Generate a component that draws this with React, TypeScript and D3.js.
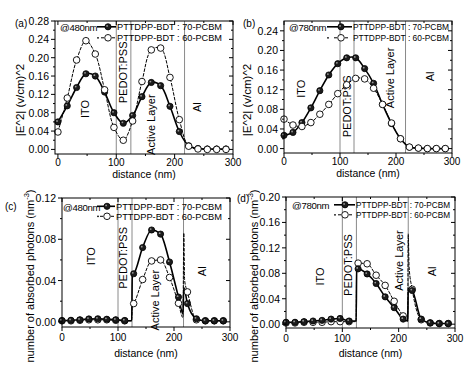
import React from "react";
import * as d3 from "d3";

// ---------------- data ----------------
const DISTANCE = [0, 16, 32, 48, 64, 80, 96, 112, 128, 144, 160, 176, 192, 208, 224, 240, 256, 272, 288];
const X_TICKS = [0, 100, 200, 300];
const X_MINOR = [50, 150, 250];
const LAYER_BOUNDARIES = [100, 125, 217];
const LAYER_NAMES = ["ITO", "PEDOT:PSS", "Active Layer", "Al"];
const SERIES_NAMES = ["PTTDPP-BDT : 70-PCBM", "PTTDPP-BDT : 60-PCBM"];
const PANEL_LABELS = ["(a)", "(b)", "(c)", "(d)"];
const WAVELENGTHS = ["@480nm", "@780nm", "@480nm", "@780nm"];
const Y_TITLES = ["|E^2| (v/cm)^2", "|E^2| (v/cm)^2", "number of absorbed photons (nm", "number of absorbed photons (nm"];
const X_TITLE = "distance (nm)";

// (a) |E|^2 @480nm
const A_70 = [0.06, 0.095, 0.135, 0.165, 0.16, 0.125, 0.08, 0.057, 0.074, 0.115, 0.146, 0.139, 0.094, 0.039, 0.008, 0.002, 0.001, 0.001, 0.001];
const A_60 = [0.038, 0.112, 0.195, 0.237, 0.208, 0.13, 0.048, 0.02, 0.062, 0.148, 0.217, 0.221, 0.157, 0.065, 0.007, 0.001, 0, 0, 0];
const A_Y_TICKS = [0, 0.04, 0.08, 0.12, 0.16, 0.2, 0.24, 0.28];

// (b) |E|^2 @780nm
const B_70 = [0.027, 0.033, 0.053, 0.083, 0.118, 0.15, 0.173, 0.185, 0.185, 0.163, 0.133, 0.09, 0.051, 0.02, 0.003, 0.001, 0, 0, 0];
const B_60 = [0.06, 0.048, 0.045, 0.053, 0.07, 0.09, 0.112, 0.13, 0.143, 0.142, 0.123, 0.09, 0.052, 0.02, 0.003, 0.001, 0, 0, 0];
const B_Y_TICKS = [0, 0.04, 0.08, 0.12, 0.16, 0.2, 0.24];

// (c) absorbed photons @480nm
const C_70 = [0.0012, 0.0015, 0.002, 0.0028, 0.003, 0.0025, 0.002, 0.0012, 0.0466, 0.072, 0.089, 0.085, 0.058, 0.024, 0.0177, 0.003, 0.001, 0.001, 0.001];
const C_60 = [0.001, 0.001, 0.0015, 0.002, 0.002, 0.002, 0.0015, 0.001, 0.0177, 0.041, 0.059, 0.06, 0.043, 0.018, 0.029, 0.002, 0.001, 0.001, 0.001];
const C_70_LINE_X = [0, 16, 32, 48, 64, 80, 96, 112, 124.5, 125.5, 128, 144, 160, 176, 192, 208, 216, 217.5, 224, 240, 256, 272, 288];
const C_70_LINE_Y = [0.0012, 0.0015, 0.002, 0.0028, 0.003, 0.0025, 0.002, 0.0012, 0.001, 0.046, 0.0466, 0.072, 0.089, 0.085, 0.058, 0.024, 0.008, 0.033, 0.0177, 0.003, 0.001, 0.001, 0.001];
const C_60_LINE_X = [0, 16, 32, 48, 64, 80, 96, 112, 124.5, 125.5, 128, 144, 160, 176, 192, 208, 216, 217.5, 219, 224, 240, 256, 272, 288];
const C_60_LINE_Y = [0.001, 0.001, 0.0015, 0.002, 0.002, 0.002, 0.0015, 0.001, 0.001, 0.016, 0.0177, 0.041, 0.059, 0.06, 0.043, 0.018, 0.004, 0.086, 0.04, 0.029, 0.002, 0.001, 0.001, 0.001];
const C_Y_TICKS = [0, 0.04, 0.08, 0.12];

// (d) absorbed photons @780nm
const D_70 = [0.003, 0.003, 0.004, 0.005, 0.006, 0.008, 0.009, 0.005, 0.087, 0.079, 0.064, 0.043, 0.026, 0.008, 0.053, 0.008, 0.002, 0.001, 0.001];
const D_60 = [0.002, 0.002, 0.003, 0.003, 0.003, 0.004, 0.004, 0.004, 0.096, 0.095, 0.077, 0.061, 0.036, 0.013, 0.055, 0.007, 0.002, 0.001, 0.001];
const D_70_LINE_X = [0, 16, 32, 48, 64, 80, 96, 112, 124.5, 125.5, 128, 144, 160, 176, 192, 208, 216, 217, 224, 240, 256, 272, 288];
const D_70_LINE_Y = [0.003, 0.003, 0.004, 0.005, 0.006, 0.008, 0.009, 0.005, 0.005, 0.086, 0.087, 0.079, 0.064, 0.043, 0.026, 0.008, 0.005, 0.056, 0.053, 0.008, 0.002, 0.001, 0.001];
const D_60_LINE_X = [0, 16, 32, 48, 64, 80, 96, 112, 124.5, 125.5, 128, 144, 160, 176, 192, 208, 216, 217, 218.5, 224, 240, 256, 272, 288];
const D_60_LINE_Y = [0.002, 0.002, 0.003, 0.003, 0.003, 0.004, 0.004, 0.004, 0.004, 0.095, 0.096, 0.095, 0.077, 0.061, 0.036, 0.013, 0.005, 0.142, 0.09, 0.055, 0.007, 0.002, 0.001, 0.001];
const D_Y_TICKS = [0, 0.04, 0.08, 0.12, 0.16, 0.2];

// ---------------- helpers ----------------
const FONT = "Arial, 'Liberation Sans', Helvetica, sans-serif";
type Pt = [number, number];
const zip = (xs: number[], ys: number[]): Pt[] => xs.map((v, i) => [v, ys[i]] as Pt);

interface SeriesCfg {
  markers: Pt[];
  line: Pt[];
  filled: boolean;
}

interface PanelCfg {
  idx: number;
  frame: { l: number; r: number; t: number; b: number };
  xDomain: [number, number];
  yDomain: [number, number];
  yTicks: number[];
  smooth: boolean;
  openOnTop: boolean;
  series: SeriesCfg[];
  layerPos: Pt[];
  yTitlePos: Pt;
  superscript: boolean;
  labelPos: Pt;
  xTickBase: number;
  xTitleBase: number;
  legend: { wx: number; base: number; s0: number; s1: number; m: number; tx: number; tw: number; gap: number };
}

const Panel: React.FC<{ cfg: PanelCfg }> = ({ cfg }) => {
  const { l, r, t, b } = cfg.frame;
  const x = d3.scaleLinear().domain(cfg.xDomain).range([l, r]);
  const y = d3.scaleLinear().domain(cfg.yDomain).range([b, t]);
  const gen = d3
    .line<Pt>()
    .x((d) => x(d[0]))
    .y((d) => y(d[1]))
    .curve(cfg.smooth ? d3.curveCatmullRom.alpha(0.5) : d3.curveMonotoneX);
  const clipId = `clip${cfg.idx}`;
  const yMinor: number[] = [];
  for (let i = 0; i < cfg.yTicks.length; i++) {
    const v = cfg.yTicks[i] + 0.02;
    if (v < cfg.yDomain[1] - 0.001) yMinor.push(v);
  }
  const fmt = d3.format(".2f");
  const seriesOrder = cfg.openOnTop ? [0, 1] : [1, 0];
  const lg = cfg.legend;

  const marker = (s: SeriesCfg, p: Pt, k: number) =>
    s.filled ? (
      <g key={k}>
        <circle cx={x(p[0])} cy={y(p[1])} r={3.1} fill="#1c1c1c" stroke="#000" strokeWidth={0.8} />
        <circle cx={x(p[0]) - 0.9} cy={y(p[1]) - 0.9} r={0.9} fill="#9a9a9a" />
      </g>
    ) : (
      <circle key={k} cx={x(p[0])} cy={y(p[1])} r={3.3} fill="#fff" stroke="#000" strokeWidth={0.9} />
    );

  return (
    <g fontFamily={FONT} fill="#000">
      <defs>
        <clipPath id={clipId}>
          <rect x={l} y={t} width={r - l} height={b - t} />
        </clipPath>
      </defs>
      {LAYER_BOUNDARIES.map((v) => (
        <line key={v} x1={x(v)} x2={x(v)} y1={t} y2={b} stroke="#8a8a8a" strokeWidth={1} />
      ))}
      {LAYER_NAMES.map((name, i) => (
        <text
          key={name}
          transform={`translate(${x(cfg.layerPos[i][0])},${y(cfg.layerPos[i][1])}) rotate(-90)`}
          textAnchor="middle"
          dominantBaseline="central"
          fontSize={11}
        >
          {name}
        </text>
      ))}
      <g clipPath={`url(#${clipId})`}>
        {seriesOrder.map((si) => {
          const s = cfg.series[si];
          return (
            <path
              key={si}
              d={gen(s.line) || ""}
              fill="none"
              stroke="#000"
              strokeWidth={s.filled ? 1.6 : 1}
              strokeDasharray={s.filled ? undefined : "3.5,1.2"}
            />
          );
        })}
      </g>
      {seriesOrder.map((si) => (
        <g key={si}>{cfg.series[si].markers.map((p, k) => marker(cfg.series[si], p, k))}</g>
      ))}
      <rect x={l} y={t} width={r - l} height={b - t} fill="none" stroke="#000" strokeWidth={1} />
      {cfg.yTicks.map((v) => (
        <g key={v}>
          <line x1={l - 4} x2={l} y1={y(v)} y2={y(v)} stroke="#000" />
          <line x1={r} x2={r - 4} y1={y(v)} y2={y(v)} stroke="#000" />
          <text x={l - 6} y={y(v)} textAnchor="end" dominantBaseline="central" fontSize={10.5}>
            {fmt(v)}
          </text>
        </g>
      ))}
      {yMinor.map((v) => (
        <g key={`m${v}`}>
          <line x1={l - 2} x2={l} y1={y(v)} y2={y(v)} stroke="#000" />
          <line x1={r} x2={r - 2} y1={y(v)} y2={y(v)} stroke="#000" />
        </g>
      ))}
      {X_TICKS.map((v) => (
        <g key={v}>
          <line x1={x(v)} x2={x(v)} y1={b} y2={b + 4} stroke="#000" />
          <line x1={x(v)} x2={x(v)} y1={t} y2={t + 4} stroke="#000" />
          <text x={x(v)} y={cfg.xTickBase} textAnchor="middle" fontSize={10}>
            {v}
          </text>
        </g>
      ))}
      {X_MINOR.map((v) => (
        <g key={`xm${v}`}>
          <line x1={x(v)} x2={x(v)} y1={b} y2={b + 2} stroke="#000" />
          <line x1={x(v)} x2={x(v)} y1={t} y2={t + 2} stroke="#000" />
        </g>
      ))}
      <text x={(l + r) / 2} y={cfg.xTitleBase} textAnchor="middle" fontSize={10.5}>
        {X_TITLE}
      </text>
      <text
        transform={`translate(${cfg.yTitlePos[0]},${cfg.yTitlePos[1]}) rotate(-90)`}
        textAnchor="middle"
        dominantBaseline="central"
        fontSize={cfg.superscript ? 11 : 11.5}
      >
        {Y_TITLES[cfg.idx]}
        {cfg.superscript ? (
          <>
            <tspan dy={-4} fontSize={7.5}>
              -3
            </tspan>
            <tspan dy={4}>)</tspan>
          </>
        ) : null}
      </text>
      <text x={cfg.labelPos[0]} y={cfg.labelPos[1]} fontSize={10}>
        {PANEL_LABELS[cfg.idx]}
      </text>
      {/* legend */}
      <text x={lg.wx} y={lg.base + 1} fontSize={9.6} letterSpacing={-0.3}>
        {WAVELENGTHS[cfg.idx]}
      </text>
      <line x1={lg.s0} x2={lg.s1} y1={lg.base - 3.2} y2={lg.base - 3.2} stroke="#000" strokeWidth={1.6} />
      {marker(cfg.series[0], [x.invert(lg.m), y.invert(lg.base - 3.2)], 999)}
      <text x={lg.tx} y={lg.base} fontSize={9.2} textLength={lg.tw} lengthAdjust="spacingAndGlyphs">
        {SERIES_NAMES[0]}
      </text>
      <circle cx={lg.s0 + 1} cy={lg.base + lg.gap - 3.2} r={0.9} fill="#000" />
      <line x1={lg.m - 7} x2={lg.m - 4} y1={lg.base + lg.gap - 3.2} y2={lg.base + lg.gap - 3.2} stroke="#000" strokeWidth={1} />
      <line x1={lg.m + 4} x2={lg.m + 7} y1={lg.base + lg.gap - 3.2} y2={lg.base + lg.gap - 3.2} stroke="#000" strokeWidth={1} />
      {marker(cfg.series[1], [x.invert(lg.m), y.invert(lg.base + lg.gap - 3.2)], 998)}
      <text x={lg.tx} y={lg.base + lg.gap} fontSize={9.2} textLength={lg.tw} lengthAdjust="spacingAndGlyphs">
        {SERIES_NAMES[1]}
      </text>
    </g>
  );
};

const PANELS: PanelCfg[] = [
  {
    idx: 0,
    frame: { l: 55, r: 233, t: 21, b: 154 },
    xDomain: [-5, 300],
    yDomain: [-0.01, 0.28],
    yTicks: A_Y_TICKS,
    smooth: true,
    openOnTop: true,
    series: [
      { markers: zip(DISTANCE, A_70), line: zip(DISTANCE, A_70), filled: true },
      { markers: zip(DISTANCE, A_60), line: zip(DISTANCE, A_60), filled: false },
    ],
    layerPos: [[47, 0.088], [111, 0.168], [160, 0.054], [239, 0.092]],
    yTitlePos: [20, 100],
    superscript: false,
    labelPos: [15, 27],
    xTickBase: 165.5,
    xTitleBase: 178,
    legend: { wx: 60, base: 30, s0: 97, s1: 116, m: 108, tx: 117, tw: 105, gap: 11 },
  },
  {
    idx: 1,
    frame: { l: 284, r: 452, t: 21, b: 153 },
    xDomain: [0, 300],
    yDomain: [-0.009, 0.26],
    yTicks: B_Y_TICKS,
    smooth: true,
    openOnTop: true,
    series: [
      { markers: zip(DISTANCE, B_70), line: zip(DISTANCE, B_70), filled: true },
      { markers: zip(DISTANCE, B_60), line: zip(DISTANCE, B_60), filled: false },
    ],
    layerPos: [[31, 0.122], [113, 0.086], [190, 0.144], [261, 0.147]],
    yTitlePos: [247, 100],
    superscript: false,
    labelPos: [243, 27],
    xTickBase: 164.5,
    xTitleBase: 177,
    legend: { wx: 289, base: 30, s0: 327, s1: 352, m: 341, tx: 353, tw: 96, gap: 11 },
  },
  {
    idx: 2,
    frame: { l: 62, r: 230, t: 198, b: 327 },
    xDomain: [0, 300],
    yDomain: [-0.005, 0.12],
    yTicks: C_Y_TICKS,
    smooth: false,
    openOnTop: false,
    series: [
      { markers: zip(DISTANCE, C_70), line: zip(C_70_LINE_X, C_70_LINE_Y), filled: true },
      { markers: zip(DISTANCE, C_60), line: zip(C_60_LINE_X, C_60_LINE_Y), filled: false },
    ],
    layerPos: [[52, 0.0635], [109, 0.062], [166, 0.021], [250, 0.049]],
    yTitlePos: [30, 276],
    superscript: true,
    labelPos: [5, 210],
    xTickBase: 341,
    xTitleBase: 357,
    legend: { wx: 63, base: 209.5, s0: 97, s1: 115, m: 107, tx: 116, tw: 106, gap: 10 },
  },
  {
    idx: 3,
    frame: { l: 286, r: 455, t: 197, b: 328 },
    xDomain: [0, 300],
    yDomain: [-0.006, 0.2],
    yTicks: D_Y_TICKS,
    smooth: false,
    openOnTop: false,
    series: [
      { markers: zip(DISTANCE, D_70), line: zip(D_70_LINE_X, D_70_LINE_Y), filled: true },
      { markers: zip(DISTANCE, D_60), line: zip(D_60_LINE_X, D_60_LINE_Y), filled: false },
    ],
    layerPos: [[60, 0.075], [110, 0.093], [200, 0.1], [260, 0.083]],
    yTitlePos: [254, 276],
    superscript: true,
    labelPos: [237, 202],
    xTickBase: 342,
    xTitleBase: 357,
    legend: { wx: 292, base: 208, s0: 334, s1: 355, m: 345, tx: 356, tw: 94, gap: 10 },
  },
];

export default function App() {
  return (
    <svg
      width={474}
      height={366}
      viewBox="0 0 474 366"
      style={{ position: "absolute", left: 0, top: 0, display: "block" }}
    >
      <rect x={0} y={0} width={474} height={366} fill="#fff" />
      {PANELS.map((p) => (
        <Panel key={p.idx} cfg={p} />
      ))}
    </svg>
  );
}
